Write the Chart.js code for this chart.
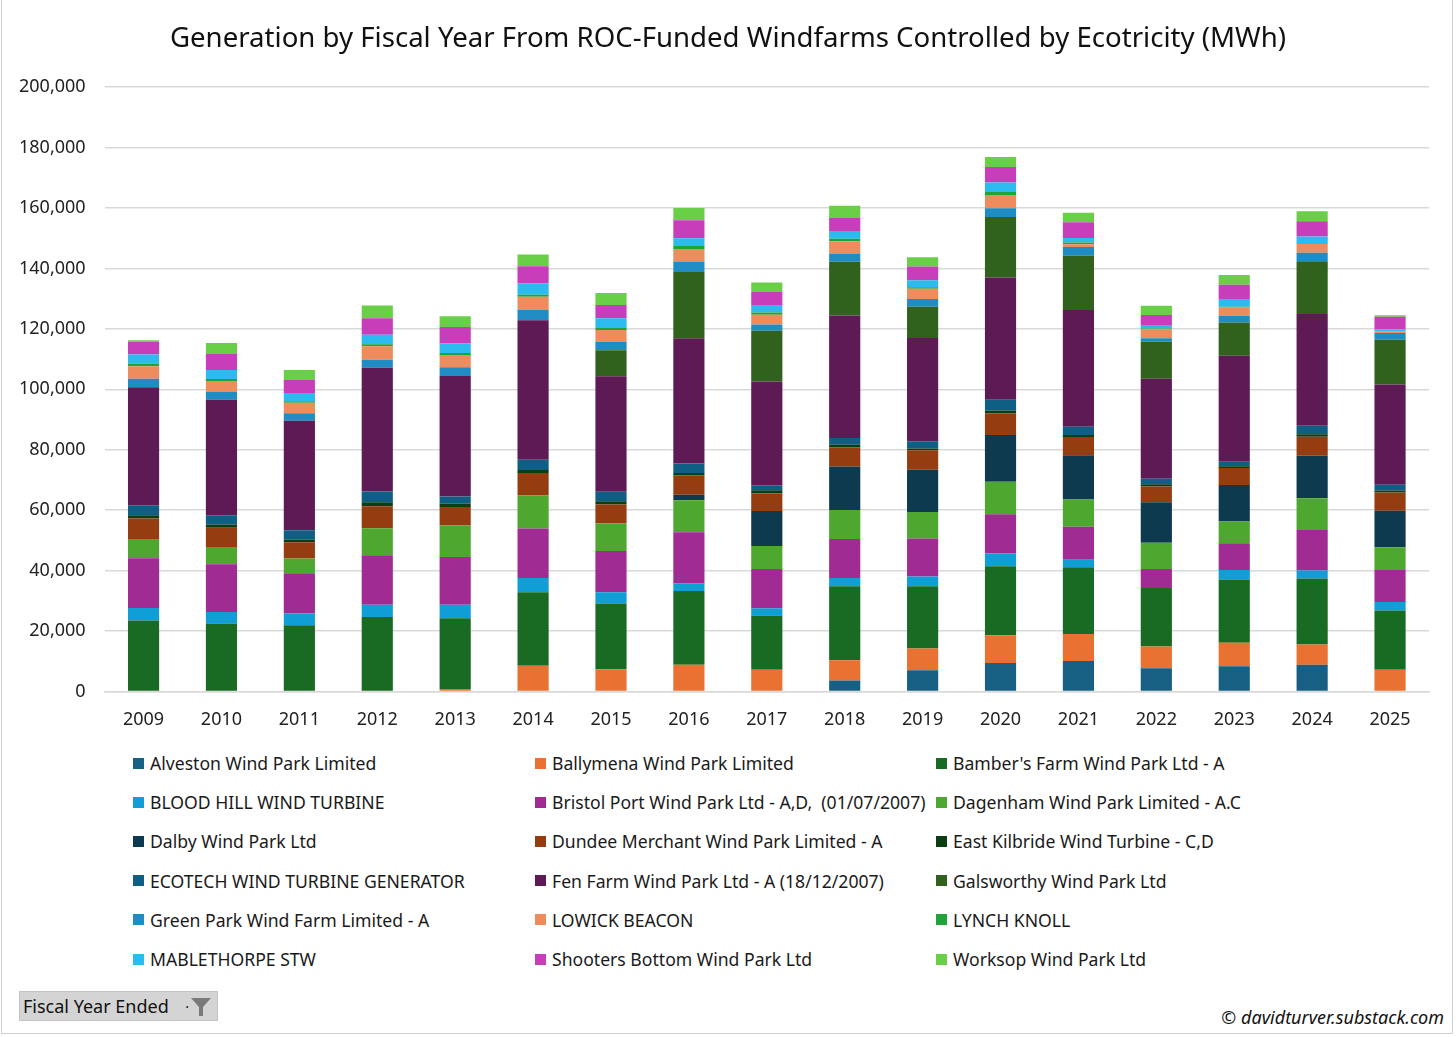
<!DOCTYPE html>
<html>
<head>
<meta charset="utf-8">
<title>Generation by Fiscal Year</title>
<script src="https://cdn.jsdelivr.net/npm/chart.js@4.4.1/dist/chart.umd.min.js"></script>
<style>
  html, body { margin: 0; padding: 0; background: #fff; }
  body { width: 1456px; height: 1037px; position: relative; overflow: hidden; font-family: 'Noto Sans', sans-serif; color: #1a1a1a; }
  #frame { position: absolute; left: 1px; top: -2px; width: 1452px; height: 1036px; border: 1px solid #d0d0d0; box-sizing: border-box; }
  #chartBox { position: absolute; left: 0; top: 0; width: 1456px; height: 749px; }
  #legend { position: absolute; left: 0; top: 751px; width: 1456px; }
  .item { position: absolute; display: flex; align-items: center; font-size: 17.6px; white-space: pre; height: 24px; }
  .item span.box { width: 11px; height: 11px; margin-right: 6px; display: inline-block; }
  #filterBtn { position: absolute; left: 19px; top: 991px; width: 199px; height: 30px; background: #d4d4d4; border: 1px solid #c4c4c4; box-sizing: border-box; font-size: 18px; line-height: 28px; padding-left: 3px; color: #111; }
  #filterBtn svg { position: absolute; right: 5px; top: 5px; }
  #filterBtn .dot { position: absolute; right: 28px; top: -3px; font-size: 14px; }
  #credit { position: absolute; right: 12px; top: 1005px; font-size: 18px; font-style: italic; color: #111; }
</style>
</head>
<body>
<div id="frame"></div>
<div id="chartBox"><canvas id="genChart"></canvas></div>
<div id="legend"></div>
<div id="filterBtn">Fiscal Year Ended<span class="dot">.</span>
  <svg width="22" height="20" viewBox="0 0 22 20"><path d="M1 1 H21 L13 10 V19 H9 V10 Z" fill="#7a7a7a"/></svg>
</div>
<div id="credit">© davidturver.substack.com</div>

<script>
var FONT = "'Noto Sans', sans-serif";

// fiscal years
var years = ['2009', '2010', '2011', '2012', '2013', '2014', '2015', '2016', '2017',
    '2018', '2019', '2020', '2021', '2022', '2023', '2024', '2025'];

// generation per windfarm, MWh
var alveston    = [0, 0, 0, 0, 0, 0, 0, 0, 0, 3600, 7000, 9400, 10100, 7700, 8300, 8800, 0];
var ballymena   = [0, 0, 0, 0, 800, 8500, 7300, 8800, 7200, 6700, 7200, 9200, 8900, 7200, 7800, 6700, 7200];
var bambers     = [23500, 22500, 21900, 24600, 23400, 24300, 21800, 24400, 17900, 24500, 20600, 22800, 22100, 19300, 20900, 21900, 19600];
var bloodHill   = [4100, 3800, 3900, 4100, 4500, 4700, 3700, 2600, 2400, 2700, 3200, 4200, 2500, 0, 3200, 2600, 2800];
var bristolPort = [16500, 15800, 13300, 16400, 15800, 16400, 13700, 16900, 13000, 12900, 12600, 13000, 10900, 6300, 8800, 13400, 10600];
var dagenham    = [6300, 5700, 4900, 8900, 10400, 11000, 9100, 10600, 7600, 9600, 8800, 10800, 9000, 8700, 7200, 10500, 7500];
var dalby       = [0, 0, 0, 0, 0, 0, 0, 1800, 11600, 14400, 14000, 15500, 14700, 13400, 12100, 14200, 12100];
var dundee      = [6800, 6400, 5400, 7300, 6100, 7400, 6300, 6400, 5800, 6400, 6400, 7100, 6000, 5200, 5600, 6200, 6000];
var eastKilbride = [1100, 1000, 900, 1300, 1200, 1000, 1000, 800, 1100, 800, 600, 1000, 700, 800, 600, 800, 700];
var ecotech     = [3300, 3100, 3000, 3600, 2300, 3400, 3200, 3100, 1600, 2300, 2400, 3500, 2700, 1800, 1500, 2800, 1900];
var fenFarm     = [39100, 38200, 36300, 40900, 39900, 46100, 38200, 41500, 34400, 40500, 34200, 40500, 38600, 33100, 35100, 37000, 33200];
var galsworthy  = [0, 0, 0, 0, 0, 0, 8600, 21900, 16800, 17800, 10300, 20000, 18000, 12200, 11000, 17500, 14800];
var greenPark   = [2800, 2600, 2500, 2700, 2900, 3400, 2800, 3500, 2000, 2700, 2600, 2900, 2900, 1200, 2200, 2800, 2200];
var lowick      = [4100, 3600, 3400, 4400, 4000, 4400, 3900, 4100, 3300, 4100, 3400, 4400, 900, 2900, 2800, 3000, 600];
var lynchKnoll  = [900, 700, 500, 700, 700, 700, 700, 1000, 700, 800, 500, 1000, 600, 300, 200, 200, 100];
var mablethorpe = [3000, 3000, 2800, 3100, 3200, 3800, 3200, 2600, 2500, 2300, 2300, 3100, 1500, 900, 2600, 2200, 500];
var shooters    = [4200, 5300, 4300, 5500, 5400, 5600, 4400, 5900, 4300, 4600, 4500, 5200, 5200, 3600, 4700, 5000, 4200];
var worksop     = [500, 3600, 3300, 4200, 3600, 3900, 4000, 4100, 3100, 4000, 3100, 3300, 3100, 3000, 3200, 3300, 500];

var names = ['Alveston Wind Park Limited', 'Ballymena Wind Park Limited', "Bamber's Farm Wind Park Ltd - A",
    'BLOOD HILL WIND TURBINE', 'Bristol Port Wind Park Ltd - A,D,  (01/07/2007)', 'Dagenham Wind Park Limited - A.C',
    'Dalby Wind Park Ltd', 'Dundee Merchant Wind Park Limited - A', 'East Kilbride Wind Turbine - C,D',
    'ECOTECH WIND TURBINE GENERATOR', 'Fen Farm Wind Park Ltd - A (18/12/2007)', 'Galsworthy Wind Park Ltd',
    'Green Park Wind Farm Limited - A', 'LOWICK BEACON', 'LYNCH KNOLL',
    'MABLETHORPE STW', 'Shooters Bottom Wind Park Ltd', 'Worksop Wind Park Ltd'];

var series = [alveston, ballymena, bambers, bloodHill, bristolPort, dagenham, dalby, dundee, eastKilbride,
    ecotech, fenFarm, galsworthy, greenPark, lowick, lynchKnoll, mablethorpe, shooters, worksop];

var colors = ['#176083', '#E97132', '#196B24', '#0F9ED5', '#A02B93', '#4EA72E',
    '#0E3A50', '#963C11', '#0D3D14', '#0F5F84', '#5E1A55', '#30621D',
    '#1F8CC4', '#EF8C5B', '#22A33A', '#2CBBEE', '#C83DB9', '#69CF47'];

var yTicks = [0, 20000, 40000, 60000, 80000, 100000, 120000, 140000, 160000, 180000, 200000];

function commaify(value) {
    var result = ('' + value).replace(/^(-?\d+)(\d{3})/, '$1,$2');
    return value == result ? result : commaify(result);
}

var datasets = series.map(function (vals, i) {
    return {
        label: names[i],
        data: vals,
        backgroundColor: colors[i],
        borderWidth: 0,
        barPercentage: 0.4,
        categoryPercentage: 1.0
    };
});

var ctx = document.getElementById('genChart').getContext('2d');
var genChart = new Chart(ctx, {
    type: 'bar',
    data: { labels: years, datasets: datasets },
    options: {
        responsive: true,
        maintainAspectRatio: false,
        animation: false,
        layout: { padding: 0 },
        plugins: {
            legend: { display: false },
            tooltip: { enabled: false },
            title: {
                display: true,
                text: 'Generation by Fiscal Year From ROC-Funded Windfarms Controlled by Ecotricity (MWh)',
                color: '#111',
                font: { family: FONT, size: 27.6, weight: 'normal' },
                padding: { top: 23, bottom: 31 }
            }
        },
        scales: {
            x: {
                stacked: true,
                grid: { display: false, drawTicks: false },
                border: { display: true, color: '#d9d9d9', width: 1.5 },
                ticks: { color: '#222', font: { family: FONT, size: 18 }, padding: 18 }
            },
            y: {
                stacked: true,
                min: 0,
                max: 200000,
                afterBuildTicks: function (axis) {
                    axis.ticks = yTicks.map(function (v) { return { value: v }; });
                },
                grid: { color: '#d9d9d9', lineWidth: 1.5, drawTicks: false },
                border: { display: false },
                ticks: {
                    color: '#222',
                    font: { family: FONT, size: 18 },
                    padding: 19,
                    callback: function (v) { return commaify(v); }
                }
            },
            // empty right-hand spacer so the title stays centred on the page
            spacer: {
                position: 'right',
                grid: { display: false, drawTicks: false },
                border: { display: false },
                ticks: { display: false },
                afterFit: function (axis) { axis.width = 27; }
            }
        }
    }
});

// legend in three columns, built from the chart's datasets
var legendBox = document.getElementById('legend');
var colX = [133, 535, 936];
genChart.data.datasets.forEach(function (ds, i) {
    var div = document.createElement('div');
    div.className = 'item';
    div.style.left = colX[i % 3] + 'px';
    div.style.top = (Math.floor(i / 3) * 39.2) + 'px';
    var box = document.createElement('span');
    box.className = 'box';
    box.style.background = ds.backgroundColor;
    div.appendChild(box);
    div.appendChild(document.createTextNode(ds.label));
    legendBox.appendChild(div);
});
</script>
</body>
</html>
